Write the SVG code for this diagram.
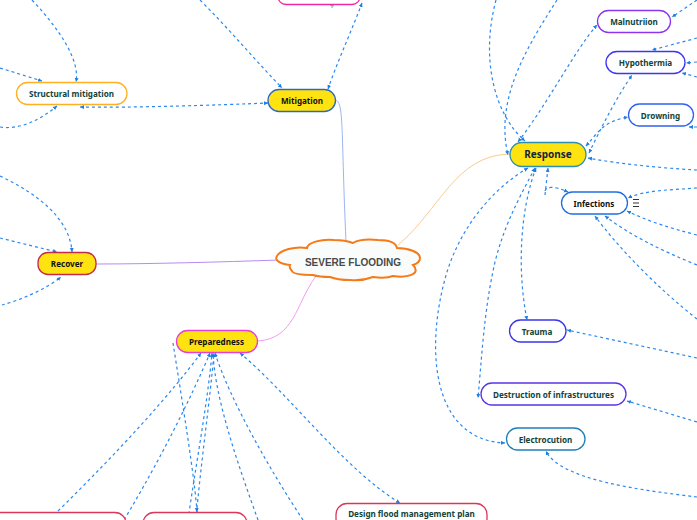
<svg xmlns="http://www.w3.org/2000/svg" width="697" height="520" viewBox="0 0 697 520">
<style>
text{font-family:"Noto Sans","Open Sans",sans-serif;font-weight:700;font-size:8.100px;fill:#12433a;text-anchor:middle}
.k{fill:#111}
.c{fill:none;stroke:#2b88ee;stroke-width:1.2;stroke-dasharray:3 3}
.b{fill:none;stroke-width:1}
.n{fill:#fff;stroke-width:1.3}
.y{fill:#ffe311;stroke-width:1.3}
</style>
<defs>
<marker id="a" markerWidth="5" markerHeight="5" refX="4" refY="2" orient="auto-start-reverse" markerUnits="userSpaceOnUse"><path d="M0 0L4 2L0 4Z" fill="#1b7fe3"/></marker>
</defs>
<g id="connectors">
<path class="b" stroke="#9db4f5" d="M336 100C344 104 341 130 346 242"/>
<path class="b" stroke="#b68cf2" d="M96 264C150 264 220 262 280 260"/>
<path class="b" stroke="#f29cf0" d="M258 341C295 338 295 305 316 276"/>
<path class="b" stroke="#fbcb8c" d="M398 245C440 210 455 155 510 154"/>
<g marker-start="url(#a)" marker-end="url(#a)">
<path class="c" d="M80 107C130 108 220 105 268 103"/>
<path class="c" d="M362 3C352 30 338 60 328 89"/>
<path class="c" d="M518 142C550 100 575 50 597 25"/>
<path class="c" d="M589 153C600 130 615 100 632 75"/>
<path class="c" d="M586 146C600 130 603 122 628 117"/>
<path class="c" d="M528 168C490 190 460 230 447 272C425 345 430 440 505 443"/>
<path class="c" d="M535 168C515 205 503 230 495 262C484 310 482 355 478 398"/>
<path class="c" d="M536 168C520 210 517 270 527 320"/>
<path class="c" d="M240 353C290 395 345 470 400 503"/>
</g>
<g marker-end="url(#a)">
<path class="c" d="M200 0C230 30 255 60 282 88"/>
<path class="c" d="M496 0C480 60 495 115 525 141"/>
<path class="c" d="M557 0C525 50 495 100 508 155"/>
<path class="c" d="M697 170C660 168 620 164 588 158"/>
<path class="c" d="M545 195L548 168"/>
<path class="c" d="M545 191C546 186 555 186 568 192"/>
<path class="c" d="M0 68L42 81"/>
<path class="c" d="M32 0C60 30 80 60 76 82"/>
<path class="c" d="M0 127C20 130 40 120 57 106"/>
<path class="c" d="M0 176C40 195 70 220 72 252"/>
<path class="c" d="M0 238L57 252"/>
<path class="c" d="M2 305C20 300 45 290 61 277"/>
<path class="c" d="M697 0L672 17"/>
<path class="c" d="M697 38L652 50"/>
<path class="c" d="M697 77L682 73"/>
<path class="c" d="M697 62L686 63"/>
<path class="c" d="M697 127L689 127"/>
<path class="c" d="M697 188C670 190 645 190 628 198"/>
<path class="c" d="M697 235C670 228 650 222 627 211"/>
<path class="c" d="M697 265C660 250 630 235 605 216"/>
<path class="c" d="M697 319C660 290 620 250 595 216"/>
<path class="c" d="M697 358L567 330"/>
<path class="c" d="M697 422L627 401"/>
<path class="c" d="M697 497C640 490 560 480 546 451"/>
<path class="c" d="M173 343C182 400 195 480 197 512"/>
<path class="c" d="M58 511C120 450 170 395 201 353"/>
<path class="c" d="M124 520C160 460 190 400 210 353"/>
<path class="c" d="M188 520C195 470 208 400 212 353"/>
<path class="c" d="M196 520C200 470 210 400 214 353"/>
<path class="c" d="M258 520C240 470 215 400 213 353"/>
<path class="c" d="M303 520C270 470 230 400 215 353"/>
</g>
<path d="M332 3V8M330 5L334 6" stroke="#2ecc8f" stroke-width="1" fill="none"/>
</g>
<g id="root"><path d="M290 265C280 264 274 260 277 256C280 250 295 246 307 248C308 242 322 239 334 240C342 240 348 241 353 243C358 240 368 239 378 240C390 240 396 243 397 248C408 248 420 252 420 258C420 262 416 264 413 265C416 268 417 272 413 274C408 277 400 277 393 276C388 278 380 278 373 277C365 280 358 281 350 280C342 280 335 279 330 277C322 277 316 276 313 275C304 275 293 274 292 271C290 269 289 267 290 265Z" fill="#fafcfb" stroke="#f47a1a" stroke-width="2"/><text x="353" y="266" style="font-family:'Liberation Sans',Arial,sans-serif;font-size:10px;fill:#4a4a4a">SEVERE FLOODING</text></g>
<g id="mitigation"><rect class="y" x="268" y="89.500" width="67.500" height="22" rx="11" stroke="#2f67c8"/><text class="k" x="302" y="104">Mitigation</text></g>
<g id="structural"><rect class="n" x="16.500" y="82.500" width="110.500" height="22" rx="11" stroke="#ffb020"/><text x="71.500" y="97">Structural mitigation</text></g>
<g id="recover"><rect class="y" x="38" y="252.500" width="58" height="22" rx="10" stroke="#c22b4c"/><text class="k" x="67" y="267">Recover</text></g>
<g id="preparedness"><rect class="y" x="176.500" y="330.500" width="81" height="22" rx="11" stroke="#e63fd8"/><text class="k" x="216.500" y="344.500">Preparedness</text></g>
<g id="response"><rect x="510" y="142.500" width="76" height="24" rx="12" fill="#ffe311" stroke="#2a8fb0" stroke-width="1.3"/><text class="k" x="548" y="158" style="font-size:10px;fill:#12253a">Response</text></g>
<g id="malnutriion"><rect class="n" x="597.500" y="10.500" width="73" height="22" rx="11" stroke="#8a35f0"/><text x="634" y="24.500">Malnutriion</text></g>
<g id="hypothermia"><rect class="n" x="606" y="51.500" width="79" height="22" rx="11" stroke="#3f35f0"/><text x="645.500" y="66">Hypothermia</text></g>
<g id="drowning"><rect class="n" x="628.500" y="104" width="65" height="22" rx="11" stroke="#2f62f0"/><text x="660.500" y="118.500">Drowning</text></g>
<g id="infections"><rect class="n" x="561.500" y="192" width="66" height="22" rx="11" stroke="#1f6fe3"/><text class="k" x="594" y="206.500">Infections</text><path d="M633 199.500h6M633 203h6M633 206.500h6" stroke="#333" stroke-width="1"/></g>
<g id="trauma"><rect class="n" x="509.500" y="320" width="56.500" height="22" rx="11" stroke="#3a35e8"/><text x="537" y="334.500">Trauma</text></g>
<g id="destruction"><rect class="n" x="481" y="383" width="145" height="22" rx="11" stroke="#5a35e8"/><text x="553.500" y="397.500">Destruction of infrastructures</text></g>
<g id="electrocution"><rect class="n" x="506.500" y="428" width="78.500" height="22" rx="11" stroke="#1f80b8"/><text x="545.500" y="442.500">Electrocution</text></g>
<g id="design"><rect class="n" x="336" y="503.500" width="151" height="26" rx="11" stroke="#d9365a"/><text x="411.500" y="517">Design flood management plan</text></g>
<g id="bottom-left"><rect class="n" x="-30" y="512.500" width="156" height="26" rx="11" stroke="#d9365a"/></g>
<g id="bottom-mid"><rect class="n" x="143" y="512.500" width="104" height="26" rx="11" stroke="#d9365a"/></g>
<g id="top-pink"><rect class="n" x="278" y="-20" width="82" height="24.500" rx="8" stroke="#f0289a"/></g>
</svg>
